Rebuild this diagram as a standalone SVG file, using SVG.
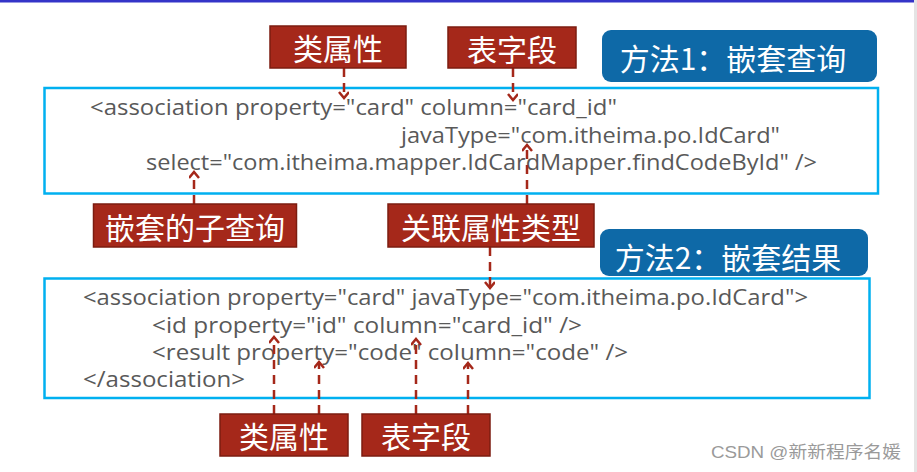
<svg xmlns="http://www.w3.org/2000/svg" width="917" height="472" viewBox="0 0 917 472">
<defs>
<style>
.code{font-family:"Open Sans","Noto Sans",sans-serif;font-size:22px;fill:#595959}
.lbl rect{fill:#a5281a;stroke:#7c1c10;stroke-width:1.5}
.lbl text{font-family:"Noto Sans CJK SC",sans-serif;font-size:30px;fill:#ffffff;text-anchor:middle;dominant-baseline:central}
.method rect{fill:#0e69a7}
.method text{font-family:"Noto Sans CJK SC",sans-serif;font-size:30px;fill:#ffffff;text-anchor:middle;dominant-baseline:central}
.frame{fill:#ffffff;stroke:#00b0f0;stroke-width:2.5}
.conn{fill:none;stroke:#a5281a;stroke-width:2.5;stroke-dasharray:9 6}
</style>
<marker id="ah" markerUnits="userSpaceOnUse" markerWidth="14" markerHeight="14" refX="7" refY="5" viewBox="0 0 14 14" orient="auto">
<path d="M1,0 L7,5 L1,10" fill="none" stroke="#a5281a" stroke-width="2.5" stroke-dasharray="none"/>
</marker>
</defs>
<rect x="0" y="0" width="917" height="472" fill="#ffffff"/>
<rect x="0" y="0" width="914" height="2.5" fill="#3434c8"/>
<rect x="914" y="0" width="3" height="472" fill="#e4e4e4"/>

<g id="method1" class="method">
<rect x="602" y="30" width="275" height="52" rx="9"/>
<text x="733" y="57">方法1：嵌套查询</text>
</g>
<g id="method2" class="method">
<rect x="600" y="229" width="268" height="47" rx="9"/>
<text x="728" y="256">方法2：嵌套结果</text>
</g>

<g id="frame1">
<rect class="frame" x="44.5" y="88" width="833.5" height="105.5"/>
<text class="code" x="90" y="115" textLength="527" lengthAdjust="spacingAndGlyphs">&lt;association property="card" column="card_id"</text>
<text class="code" x="401" y="142.5" textLength="379" lengthAdjust="spacingAndGlyphs">javaType="com.itheima.po.IdCard"</text>
<text class="code" x="146" y="170" textLength="671" lengthAdjust="spacingAndGlyphs">select="com.itheima.mapper.IdCardMapper.findCodeById" /&gt;</text>
</g>

<g id="frame2">
<rect class="frame" x="44.5" y="278.5" width="825" height="119.5"/>
<text class="code" x="83" y="305" textLength="725" lengthAdjust="spacingAndGlyphs">&lt;association property="card" javaType="com.itheima.po.IdCard"&gt;</text>
<text class="code" x="152" y="333" textLength="430" lengthAdjust="spacingAndGlyphs">&lt;id property="id" column="card_id" /&gt;</text>
<text class="code" x="152" y="360" textLength="476" lengthAdjust="spacingAndGlyphs">&lt;result property="code" column="code" /&gt;</text>
<text class="code" x="83" y="387" textLength="162" lengthAdjust="spacingAndGlyphs">&lt;/association&gt;</text>
</g>

<g id="connectors">
<line class="conn" x1="344" y1="68" x2="344" y2="98" marker-end="url(#ah)"/>
<line class="conn" x1="513" y1="68" x2="513" y2="100" marker-end="url(#ah)"/>
<line class="conn" x1="194" y1="204" x2="194" y2="172" marker-end="url(#ah)"/>
<line class="conn" x1="527" y1="204" x2="527" y2="145" marker-end="url(#ah)"/>
<line class="conn" x1="490" y1="247" x2="490" y2="288" marker-end="url(#ah)"/>
<line class="conn" x1="274" y1="414" x2="274" y2="337" marker-end="url(#ah)"/>
<line class="conn" x1="319" y1="414" x2="319" y2="362" marker-end="url(#ah)"/>
<line class="conn" x1="416" y1="414" x2="416" y2="339" marker-end="url(#ah)"/>
<line class="conn" x1="468" y1="414" x2="468" y2="363" marker-end="url(#ah)"/>
</g>

<g id="lbl-top-class" class="lbl">
<rect x="270" y="26" width="136" height="42"/>
<text x="338" y="47">类属性</text>
</g>
<g id="lbl-top-field" class="lbl">
<rect x="448" y="27" width="128" height="41"/>
<text x="512" y="47.5">表字段</text>
</g>
<g id="lbl-subquery" class="lbl">
<rect x="93.5" y="204" width="203" height="43"/>
<text x="195" y="225.5">嵌套的子查询</text>
</g>
<g id="lbl-assoc-type" class="lbl">
<rect x="388" y="204" width="206" height="43"/>
<text x="491" y="225.5">关联属性类型</text>
</g>
<g id="lbl-bot-class" class="lbl">
<rect x="220" y="414" width="128" height="42"/>
<text x="284" y="435">类属性</text>
</g>
<g id="lbl-bot-field" class="lbl">
<rect x="362" y="414" width="128" height="42"/>
<text x="426" y="435">表字段</text>
</g>

<text x="711" y="458" font-family="Liberation Sans,'Noto Sans CJK SC',sans-serif" font-size="17" fill="#9a9a9a" textLength="190" lengthAdjust="spacingAndGlyphs">CSDN @新新程序名媛</text>
</svg>
